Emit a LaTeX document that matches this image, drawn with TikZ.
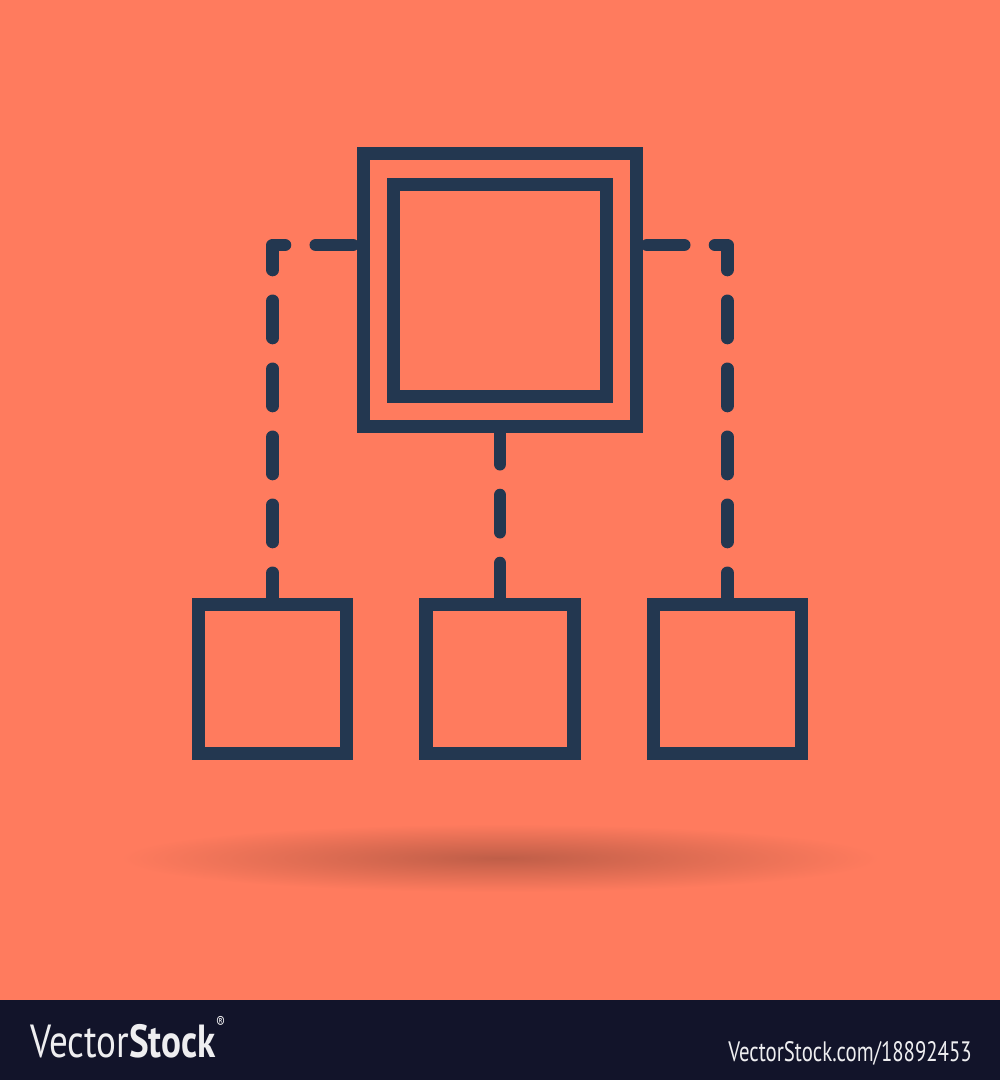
\documentclass[tikz,border=0pt]{standalone}
\usepackage{graphicx}
\usepackage{fontspec}
\newfontfamily\wmfont{PT Sans}
\usetikzlibrary{positioning}
\definecolor{bgc}{HTML}{FF7B5E}
\definecolor{inkc}{HTML}{233750}
\definecolor{shadowc}{HTML}{BF5E48}
\definecolor{bandc}{HTML}{12142A}
\definecolor{wmc}{HTML}{EEEEF0}
\tikzstyle{box}=[draw=inkc,line width=3.3mm,rectangle,inner sep=0pt,minimum width=37mm,minimum height=37.25mm]
\tikzstyle{link}=[draw=inkc,line width=3.2mm,line cap=round,line join=round,dash pattern=on 9.25mm off 7.75mm]
\tikzstyle{wm}=[text=wmc,inner sep=0pt,font=\wmfont]

\begin{document}
\begin{tikzpicture}[x=0.25mm,y=-0.25mm]
  \fill[bgc] (0,0) rectangle (1000,1000);
  \fill[bandc] (0,1000) rectangle (1000,1080);
  \shade[inner color=shadowc,outer color=bgc] (500,858) ellipse [x radius=95mm,y radius=8.5mm];
  \node[box, minimum width=68.25mm, minimum height=68.25mm] (top) at (500,290) {};
  \node[box, minimum width=53.25mm, minimum height=53mm] (inner) at (500,290.5) {};
  \node[box, below=41.25mm of top] (mid) {};
  \node[box, left=16.5mm of mid] (lft) {};
  \node[box, right=16.5mm of mid] (rgt) {};
  \draw[link] ([shift={(-1mm,11.25mm)}]top.west) -| (lft.north);
  \draw[link] ([shift={(1mm,11.25mm)}]top.east) -| (rgt.north);
  \draw[link, dash phase=1.5mm] (top.south) -- (mid.north);
  % watermark band
  \node[wm, anchor=base west] (logo) at (30,1057) {\scalebox{0.8}[1]{\fontsize{33}{33}\selectfont Vector\textbf{Stock}\raisebox{1.25ex}{\fontsize{12}{12}\selectfont ®}}};
  \node[wm, anchor=base east] (url) at (972,1061) {\scalebox{0.74}[1]{\fontsize{20}{20}\selectfont VectorStock.com/18892453}};
\end{tikzpicture}
\end{document}
